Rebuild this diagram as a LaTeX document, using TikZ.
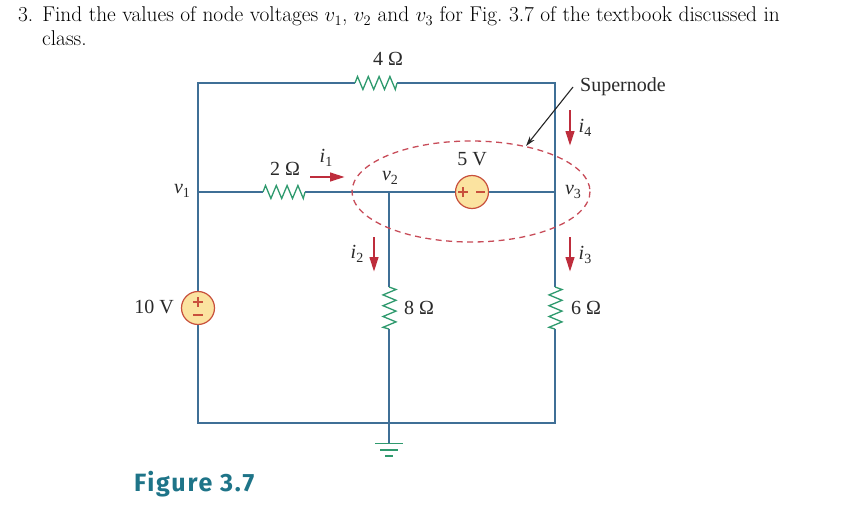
\documentclass[tikz,border=0pt]{standalone}
\usepackage{fontspec}
\usetikzlibrary{arrows.meta}
\newfontfamily\figserif{Liberation Serif}
\newfontfamily\figsans[LetterSpace=7]{Fira Sans}
\definecolor{wirecol}{HTML}{3F6F96}
\definecolor{rescol}{HTML}{2F9A6E}
\definecolor{redcol}{HTML}{BE2D3C}
\definecolor{srcfill}{HTML}{FBE3A0}
\definecolor{srcedge}{HTML}{C8503C}
\definecolor{headcol}{HTML}{1E7488}
\definecolor{txtcol}{HTML}{2A2A2A}
\newcommand{\rv}[2]{{\itshape #1}\raisebox{-0.22em}{\fontsize{14}{15}\selectfont #2}}
\tikzset{
  x=1pt,y=-1pt,
  wire/.style={draw=wirecol,line width=1.6pt},
  res/.style={draw=rescol,line width=1.3pt,line join=miter},
  cur/.style={draw=redcol,line width=2.6pt,-{Triangle[length=15pt,width=8.5pt]}},
  src/.style={circle,draw=srcedge,fill=srcfill,line width=1.2pt,minimum size=33pt,inner sep=0pt},
  lab/.style={font=\figserif\fontsize{20}{22}\selectfont,text=txtcol,inner sep=0pt},
  body/.style={font=\fontsize{21.35}{24}\selectfont,text=black,inner sep=0pt,anchor=base west},
  gnd/.style={draw=rescol,line width=1.5pt}
}
\newcommand{\zigH}[2]{\draw[res] (#1) -- ++(2.5,-6.5) -- ++(5.4,13) -- ++(5.4,-13) -- ++(5.4,13) -- ++(5.4,-13) -- ++(5.4,13) -- ++(5.4,-13) -- ++(5.4,13) -- (#2);}
\newcommand{\zigV}[2]{\draw[res] (#1) -- ++(7,2.5) -- ++(-13,5.4) -- ++(13,5.4) -- ++(-13,5.4) -- ++(13,5.4) -- ++(-13,5.4) -- ++(13,5.4) -- ++(-13,5.4) -- (#2);}
\begin{document}
\begin{tikzpicture}
\useasboundingbox (0,0) rectangle (843,511);
\fill[white] (0,0) rectangle (843,511);
% text
\node[body] (l1) at (18,22) {3.\hspace{0.42em}Find the values of node voltages $v_1$, $v_2$ and $v_3$ for Fig.\ 3.7 of the textbook discussed in};
\node[body] (l2) at (42,46) {class.};
% junctions
\coordinate (tl) at (198,83);
\coordinate (tr) at (555,83);
\coordinate (bl) at (198,423);
\coordinate (br) at (555,423);
\coordinate (n1) at (198,192);
\coordinate (n2) at (389,192);
\coordinate (n3) at (555,192);
\coordinate (gm) at (389,423);
\coordinate (gt) at (389,443.5);
\coordinate (r4a) at (355,83);
\coordinate (r4b) at (397,83);
\coordinate (r2a) at (263,192);
\coordinate (r2b) at (305,192);
\coordinate (r8a) at (389,287);
\coordinate (r8b) at (389,329);
\coordinate (r6a) at (555,287);
\coordinate (r6b) at (555,329);
% sources
\node[src] (s10) at (198,308) {};
\node[src] (s5) at (472,192) {};
% wires
\draw[wire] (s10.north) -- (tl) -- (r4a);
\draw[wire] (r4b) -- (tr) -- (r6a);
\draw[wire] (r6b) -- (br) -- (bl) -- (s10.south);
\draw[wire] (n1) -- (r2a);
\draw[wire] (r2b) -- (n2) -- (s5.west);
\draw[wire] (s5.east) -- (n3);
\draw[wire] (n2) -- (r8a);
\draw[wire] (r8b) -- (gm) -- (gt);
% resistors
\zigH{r4a}{r4b}
\zigH{r2a}{r2b}
\zigV{r8a}{r8b}
\zigV{r6a}{r6b}
% source marks
\draw[srcedge,line width=1.2pt] (s10.center)++(-5,-6) -- ++(10,0) (s10.center)++(0,-11) -- ++(0,10) (s10.center)++(-5,7) -- ++(10,0);
\draw[srcedge,line width=1.2pt] (s5.center)++(-14,0) -- ++(10,0) (s5.center)++(-9,-5) -- ++(0,10) (s5.center)++(4,0) -- ++(9,0);
% ground
\coordinate (g2) at (389,450);
\coordinate (g3) at (389,456);
\draw[gnd] (gt)++(-14,0) -- ++(28,0) (g2)++(-9,0) -- ++(18,0) (g3)++(-4,0) -- ++(8,0);
% supernode
\draw[draw=redcol!85,line width=1.3pt,dash pattern=on 6pt off 4.5pt] (471,191.5) ellipse [x radius=119, y radius=50.5];
% labels
\node[lab] (t4) at (388,59) {4 Ω};
\node[lab] (t2) at (285,169) {2 Ω};
\node[lab] (t5) at (472,159) {5 V};
\node[lab] (t8) at (419,308) {8 Ω};
\node[lab] (t6) at (586,308) {6 Ω};
\node[lab] (t10) at (154,307) {10 V};
\node[lab,anchor=west] (ts) at (580,87) {Supernode};
\node[lab] (v1) at (182,191) {\rv{v}{1}};
\node[lab] (v2) at (390,178) {\rv{v}{2}};
\node[lab] (v3) at (573,192) {\rv{v}{3}};
\node[lab] (i1) at (326,158) {\rv{i}{1}};
\node[lab] (i2) at (357,254) {\rv{i}{2}};
\node[lab] (i3) at (585,255) {\rv{i}{3}};
\node[lab] (i4) at (585,128) {\rv{i}{4}};
% current arrows
\coordinate (a1s) at (310,177); \coordinate (a1e) at (345,177);
\coordinate (a2s) at (374,237); \coordinate (a2e) at (374,272);
\coordinate (a3s) at (570,237); \coordinate (a3e) at (570,272);
\coordinate (a4s) at (570,110); \coordinate (a4e) at (570,146);
\draw[cur] (a1s) -- (a1e);
\draw[cur] (a2s) -- (a2e);
\draw[cur] (a3s) -- (a3e);
\draw[cur] (a4s) -- (a4e);
% pointer
\coordinate (ps) at (573,87); \coordinate (pe) at (526,146);
\draw[draw=black!85,line width=1.1pt,-{Stealth[length=10pt,width=6pt]}] (ps) -- (pe);
% heading
\node[font=\figsans\bfseries\fontsize{25}{28}\selectfont,text=headcol,inner sep=0pt,anchor=base west] (fig) at (134,491) {Figure 3.7};
\end{tikzpicture}
\end{document}
